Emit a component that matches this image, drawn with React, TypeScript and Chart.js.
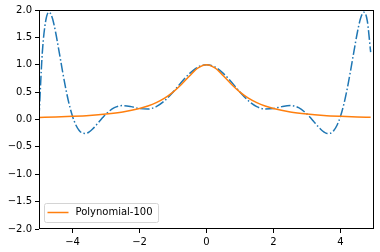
import React, { useEffect, useRef } from "react";
import { Chart, registerables } from "chart.js";

Chart.register(...registerables);

// Interpolating polynomial (blue dash-dot)
const polyX = [
  -5, -4.9, -4.8, -4.7, -4.6, -4.5, -4.4, -4.3, -4.2, -4.1, -4.0, -3.9, -3.8, -3.7, -3.6, -3.5, -3.4, -3.3, -3.2, -3.1, -3.0,
  -2.75, -2.5, -2.25, -2.0, -1.75, -1.5, -1.25, -1.0, -0.75, -0.5, -0.25, 0, 0.25, 0.5, 0.75, 1.0, 1.25, 1.5, 1.75, 2.0,
  2.25, 2.5, 2.75, 3.0, 3.1, 3.2, 3.3, 3.4, 3.5, 3.6, 3.7, 3.8, 3.9, 4.0, 4.1, 4.2, 4.3, 4.4, 4.5, 4.6, 4.7, 4.8, 4.9,
];
const polyY = [
  0.04, 1.23, 1.8, 1.96, 1.85, 1.58, 1.24, 0.89, 0.56, 0.28, 0.06, -0.1, -0.2, -0.25, -0.255, -0.226, -0.174, -0.108, -0.036, 0.035, 0.1,
  0.216, 0.254, 0.235, 0.2, 0.191, 0.235, 0.343, 0.5, 0.679, 0.843, 0.959, 1.0, 0.959, 0.843, 0.679, 0.5, 0.343, 0.235, 0.191, 0.2,
  0.235, 0.254, 0.216, 0.1, 0.035, -0.036, -0.108, -0.174, -0.226, -0.255, -0.25, -0.2, -0.1, 0.06, 0.28, 0.56, 0.89, 1.24, 1.58, 1.85, 1.96, 1.8, 1.23,
];

// Runge function curve (orange)
const rungeX = [
  -5, -4.5, -4, -3.5, -3, -2.5, -2, -1.75, -1.5, -1.25, -1, -0.75, -0.5, -0.25, 0, 0.25, 0.5, 0.75, 1, 1.25, 1.5, 1.75, 2,
  2.5, 3, 3.5, 4, 4.5, 4.9,
];
const rungeY = [
  0.038, 0.047, 0.059, 0.075, 0.1, 0.138, 0.2, 0.246, 0.308, 0.39, 0.5, 0.64, 0.8, 0.941, 1.0, 0.941, 0.8, 0.64, 0.5, 0.39, 0.308, 0.246, 0.2,
  0.138, 0.1, 0.075, 0.059, 0.047, 0.04,
];

const polyLabel = "";
const rungeLabel = "Polynomial-100";

const xTicks = [-4, -2, 0, 2, 4];
const yTicks = [-2.0, -1.5, -1.0, -0.5, 0.0, 0.5, 1.0, 1.5, 2.0];

const FONT = "'DejaVu Sans', sans-serif";

const framePlugin = {
  id: "frame",
  afterDatasetsDraw(chart: any) {
    const { ctx, chartArea: a } = chart;
    ctx.save();
    ctx.strokeStyle = "#000";
    ctx.lineWidth = 1;
    ctx.strokeRect(Math.round(a.left) + 0.5, Math.round(a.top) + 0.5, Math.round(a.right - a.left) - 1, Math.round(a.bottom - a.top) - 1);
    ctx.restore();
  },
};

const legendPlugin = {
  id: "mplLegend",
  afterDraw(chart: any) {
    const { ctx, chartArea: a } = chart;
    const ds = chart.data.datasets.filter((d: any) => d.label);
    if (!ds.length) return;
    ctx.save();
    ctx.font = `10px ${FONT}`;
    const textW = Math.max(...ds.map((d: any) => ctx.measureText(d.label).width));
    const rowH = 14;
    const x = Math.round(a.left) + 5.5;
    const h = 5 + rowH * ds.length;
    const y = Math.round(a.bottom) - 6.5 - h;
    const w = 33 + textW + 4;
    const r = 2;
    ctx.beginPath();
    ctx.moveTo(x + r, y);
    ctx.lineTo(x + w - r, y);
    ctx.arcTo(x + w, y, x + w, y + r, r);
    ctx.lineTo(x + w, y + h - r);
    ctx.arcTo(x + w, y + h, x + w - r, y + h, r);
    ctx.lineTo(x + r, y + h);
    ctx.arcTo(x, y + h, x, y + h - r, r);
    ctx.lineTo(x, y + r);
    ctx.arcTo(x, y, x + r, y, r);
    ctx.closePath();
    ctx.fillStyle = "rgba(255,255,255,0.8)";
    ctx.fill();
    ctx.strokeStyle = "#d4d4d4";
    ctx.lineWidth = 1;
    ctx.stroke();
    ds.forEach((d: any, i: number) => {
      const cy = y + 9 + i * rowH;
      ctx.beginPath();
      ctx.moveTo(x + 3, cy);
      ctx.lineTo(x + 24, cy);
      ctx.strokeStyle = d.borderColor;
      ctx.lineWidth = 1.5;
      ctx.setLineDash(d.borderDash || []);
      ctx.stroke();
      ctx.setLineDash([]);
      ctx.fillStyle = "#000";
      ctx.textBaseline = "middle";
      ctx.textAlign = "left";
      ctx.fillText(d.label, x + 31, cy);
    });
    ctx.restore();
  },
};

const fmt = (v: number, digits: number) => {
  const s = Math.abs(v).toFixed(digits);
  return v < 0 ? "\u2212" + s : s;
};

export default function App() {
  const ref = useRef<HTMLCanvasElement | null>(null);

  useEffect(() => {
    document.body.style.margin = "0";
    if (!ref.current) return;
    const chart = new Chart(ref.current, {
      type: "line",
      data: {
        datasets: [
          {
            label: rungeLabel,
            data: rungeX.map((x, i) => ({ x, y: rungeY[i] })),
            borderColor: "#ff7f0e",
            borderWidth: 1.5,
            pointRadius: 0,
            cubicInterpolationMode: "monotone",
            fill: false,
            order: 0,
          },
          {
            label: polyLabel,
            data: polyX.map((x, i) => ({ x, y: polyY[i] })),
            borderColor: "#1f77b4",
            borderWidth: 1.5,
            borderDash: [9.6, 2.4, 1.5, 2.4],
            pointRadius: 0,
            cubicInterpolationMode: "monotone",
            fill: false,
            order: 1,
          },
        ],
      },
      options: {
        responsive: false,
        animation: false,
        events: [],
        layout: { padding: { top: 10, right: 6, left: 0, bottom: 0 } },
        plugins: {
          legend: { display: false },
          tooltip: { enabled: false },
          title: { display: false },
        },
        scales: {
          x: {
            type: "linear",
            min: -5,
            max: 5,
            afterBuildTicks: (s: any) => {
              s.ticks = xTicks.map((v) => ({ value: v }));
            },
            afterFit: (s: any) => {
              s.height = 23;
            },
            ticks: {
              color: "#000",
              font: { family: FONT, size: 10 },
              padding: 3,
              maxRotation: 0,
              autoSkip: false,
              callback: (v: any) => fmt(Number(v), 0),
            },
            grid: {
              drawOnChartArea: false,
              drawTicks: true,
              tickLength: 4,
              tickColor: "#000",
              tickWidth: 1,
            },
            border: { display: false },
          },
          y: {
            type: "linear",
            min: -2,
            max: 2,
            afterBuildTicks: (s: any) => {
              s.ticks = yTicks.map((v) => ({ value: v }));
            },
            afterFit: (s: any) => {
              s.width = 39;
            },
            ticks: {
              color: "#000",
              font: { family: FONT, size: 10 },
              padding: 3,
              autoSkip: false,
              callback: (v: any) => fmt(Number(v), 1),
            },
            grid: {
              drawOnChartArea: false,
              drawTicks: true,
              tickLength: 4,
              tickColor: "#000",
              tickWidth: 1,
            },
            border: { display: false },
          },
        },
      } as any,
      plugins: [framePlugin, legendPlugin],
    });
    return () => chart.destroy();
  }, []);

  return (
    <div style={{ width: 380, height: 252 }}>
      <canvas ref={ref} width={380} height={252} style={{ display: "block" }} />
    </div>
  );
}
